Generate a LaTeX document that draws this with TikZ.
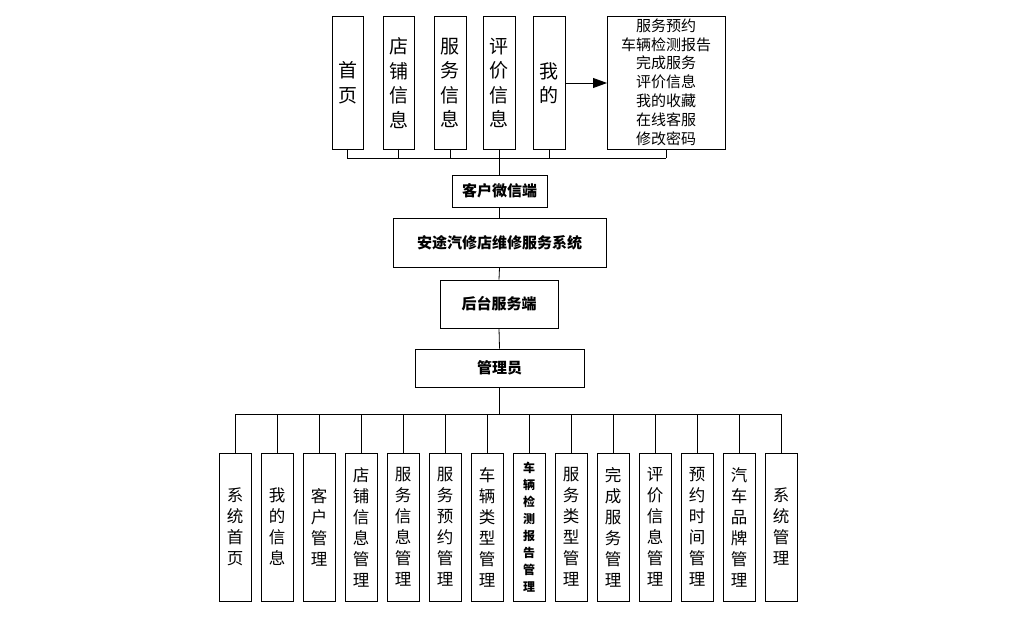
\documentclass[tikz,border=0pt]{standalone}
\usepackage{fontspec}
\setmainfont{Noto Sans CJK SC}
\usetikzlibrary{arrows.meta}
\begin{document}
\begin{tikzpicture}[x=1pt,y=-1pt,
  bx/.style={draw,thick,inner sep=0pt,fill=white},
  ln/.style={draw,thick},
  vt/.style={align=center,font=\fontsize{19}{24.5}\selectfont},
  bt/.style={align=center,font=\fontsize{16.5}{21}\selectfont},
  mt/.style={font=\fontsize{15}{17}\selectfont\bfseries}]
\useasboundingbox (0,0) rectangle (1027,617);
% top row
\foreach \n/\xa/\xb/\t in {a/332/363/{首\\页},b/383/414/{店\\铺\\信\\息},c/434/466/{服\\务\\信\\息},d/483/515/{评\\价\\信\\息},e/533/565/{我\\的}}{
  \draw[thick] (\xa,16) rectangle (\xb,149);
  \node[vt] (\n) at ({(\xa+\xb)/2},83) {\t};
  \coordinate (\n b) at ({(\xa+\xb)/2},149);
}
\draw[thick] (607,16) rectangle (725,149);
\node[align=center,font=\fontsize{15}{18.8}\selectfont] (f) at (666,82) {服务预约\\车辆检测报告\\完成服务\\评价信息\\我的收藏\\在线客服\\修改密码};
\coordinate (fb) at (666,149);
\draw[thick,-{Triangle[length=14pt,width=10pt]}] (565,83) -- (607,83);
\foreach \n in {a,b,c,d,e,f}{\draw[thick] (\n b) -- (\n b |- 0,158);}
\draw[thick] (347,158) -- (666,158);
\node[bx,minimum width=95,minimum height=32,mt] (kh) at (499.5,191) {客户微信端};
\draw[thick] (499.5,158) -- (kh.north);
\node[bx,minimum width=213,minimum height=49,mt] (sys) at (499.5,242.5) {安途汽修店维修服务系统};
\node[bx,minimum width=118,minimum height=48,mt] (ht) at (499,304) {后台服务端};
\node[bx,minimum width=169,minimum height=38,mt] (gl) at (499.5,368) {管理员};
\draw[thick] (kh.south) -- (sys.north);
\draw[thick] (sys.south) -- (ht.north);
\draw[thick] (ht.south) -- (gl.north);
\draw[thick] (gl.south) -- (499.5,414);
\draw[thick] (235,414) -- (781,414);
\foreach \i/\t in {0/{系\\统\\首\\页},1/{我\\的\\信\\息},2/{客\\户\\管\\理},3/{店\\铺\\信\\息\\管\\理},4/{服\\务\\信\\息\\管\\理},5/{服\\务\\预\\约\\管\\理},6/{车\\辆\\类\\型\\管\\理},7/{},8/{服\\务\\类\\型\\管\\理},9/{完\\成\\服\\务\\管\\理},10/{评\\价\\信\\息\\管\\理},11/{预\\约\\时\\间\\管\\理},12/{汽\\车\\品\\牌\\管\\理},13/{系\\统\\管\\理}}{
  \pgfmathsetmacro\xa{219+42*\i}
  \draw[thick] (\xa,453) rectangle (\xa+32,601);
  \node[bt] (m\i) at (\xa+16,527) {\t};
  \draw[thick] (\xa+16,414) -- (\xa+16,453);
}
\node[align=center,font=\fontsize{12}{17}\selectfont\bfseries] (m7) at (529,527) {车\\辆\\检\\测\\报\\告\\管\\理};
\end{tikzpicture}
\end{document}
